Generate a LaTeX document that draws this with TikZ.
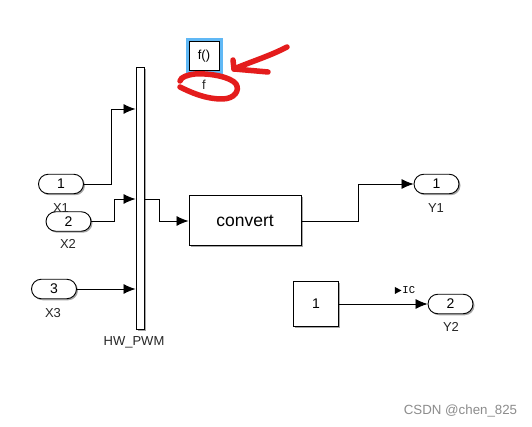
\documentclass[tikz,border=0pt]{standalone}
\usepackage{fontspec}
\setmainfont{Liberation Sans}
\newfontfamily\monoic{Liberation Mono}
\usetikzlibrary{shapes.misc,shadows,arrows.meta,calc}
\definecolor{hilite}{RGB}{96,184,245}
\definecolor{redpen}{RGB}{228,28,28}
\tikzset{
  x=1pt,y=-1pt,
  simshadow/.style={drop shadow={shadow xshift=1.5pt,shadow yshift=-1.5pt,opacity=0.35,fill=black}},
  port/.style={draw=black,line width=0.9pt,fill=white,rounded rectangle,minimum width=45pt,minimum height=19.5pt,inner sep=0pt,font=\fontsize{14}{14}\selectfont,simshadow},
  blockbox/.style={draw=black,line width=1pt,fill=white,rectangle,inner sep=0pt,font=\fontsize{13}{13}\selectfont,simshadow},
  plabel/.style={inner sep=0pt,font=\fontsize{13}{13}\selectfont,text=black!85},
  wire/.style={draw=black,line width=0.8pt,-{Latex[length=12pt,width=10pt]}},
  scribble/.style={draw=redpen,line width=5.5pt,line cap=round,line join=round},
}
\begin{document}
\begin{tikzpicture}
\useasboundingbox[fill=white] (0,0) rectangle (532,427);
% f block
\node[draw=hilite,fill=hilite,minimum width=36pt,minimum height=36pt,inner sep=0pt] (fh) at (204,56) {};
\node[draw=black,line width=1pt,fill=white,minimum width=30pt,minimum height=29pt,inner sep=0pt,font=\fontsize{13}{13}\selectfont] (fb) at (204,56.5) {f()};
% scribbles
\coordinate (sa) at (180,87);
\draw[scribble] (sa) .. controls (190,92) and (205,99) .. (222,99) .. controls (235,99) and (240,90) .. (236,84) .. controls (231,77) and (210,73) .. (195,74) .. controls (187,75) and (181,77) .. (180,81);
\draw[scribble] (287,47) .. controls (270,56) and (250,62) .. (234,69) -- (268,72);
\draw[scribble] (233,60) -- (234,69);
\node[plabel] (fl) at (204,85) {f};
% mux
\node[blockbox,minimum width=8pt,minimum height=261pt] (mux) at (140,198.5) {};
\node[plabel] (muxl) at (134,342) {HW\_PWM};
% inputs
\node[plabel] (x1l) at (61,208) {X1};
\node[port] (x1) at (61,184) {1};
\node[plabel] (x2l) at (68,244) {X2};
\node[port] (x2) at (68.5,221.5) {2};
\node[port] (x3) at (54,289) {3};
\node[plabel] (x3l) at (53,313) {X3};
% blocks
\node[blockbox,minimum width=112pt,minimum height=50pt,font=\fontsize{17.5}{18}\selectfont] (conv) at (245,221) {convert};
\node[blockbox,minimum width=45pt,minimum height=44pt,font=\fontsize{14}{14}\selectfont] (const) at (316,304) {1};
% outputs
\node[port] (y1) at (436.5,184) {1};
\node[plabel] (y1l) at (436,208) {Y1};
\node[port] (y2) at (450.5,304) {2};
\node[plabel] (y2l) at (451,327) {Y2};
% IC
\node[inner sep=0pt,font=\monoic\fontsize{10.5}{11}\selectfont] (ic) at (405,290.5) {\tikz[baseline=0pt,x=1pt,y=1pt]\fill (0,0)--(6.5,3.5)--(0,7)--cycle;\kern1pt IC};
% wires
\coordinate (m1) at (mux.west |- 0,109);
\coordinate (m2) at (mux.west |- 0,199);
\coordinate (m3) at (mux.west |- x3.east);
\coordinate (mo) at (mux.east |- 0,199);
\draw[wire] (x1.east) -- (111,184) -- (111,109) -- (m1);
\draw[wire] (x2.east) -- (114,221.5) -- (114,199) -- (m2);
\draw[wire] (x3.east) -- (m3);
\draw[wire] (mo) -- (159,199) -- (159,221) -- (conv.west);
\draw[wire] (conv.east) -- (358,221) -- (358,184) -- (y1.west);
\draw[wire] (const.east) -- (y2.west);
% watermark
\node[inner sep=0pt,font=\fontsize{13.3}{13}\selectfont,text=black!45] (wm) at (460.5,411) {CSDN @chen\_825};
\end{tikzpicture}
\end{document}
